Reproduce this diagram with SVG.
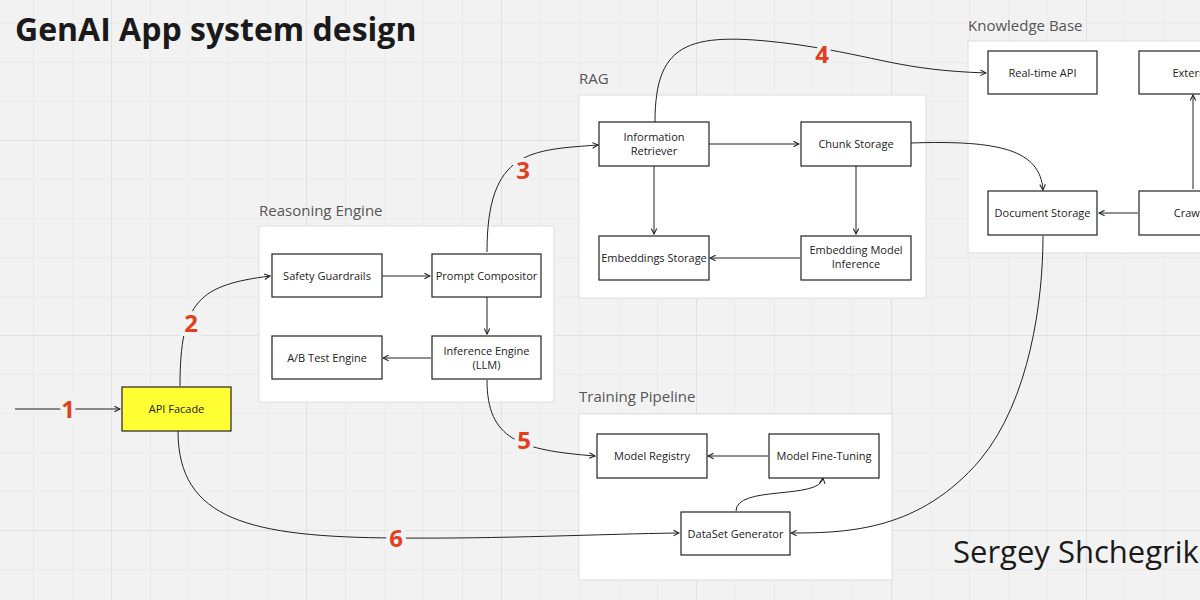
<svg xmlns="http://www.w3.org/2000/svg" width="1200" height="600" viewBox="0 0 1200 600">
<defs>
<pattern id="minor" width="39" height="39" patternUnits="userSpaceOnUse" x="33" y="23"><path d="M0 0H39M0 0V39" fill="none" stroke="#e6e6e6" stroke-width="1"/></pattern>
<pattern id="major" width="195" height="195" patternUnits="userSpaceOnUse" x="111" y="140"><path d="M0 0H195M0 0V195" fill="none" stroke="#d6d6d6" stroke-width="1"/></pattern>
<marker id="a" viewBox="0 0 10 10" refX="9" refY="5" markerWidth="7" markerHeight="7" orient="auto"><path d="M1 1L9 5L1 9" fill="none" stroke="#222" stroke-width="1.5"/></marker>
<style>
.n{fill:#fff;stroke:#222;stroke-width:1.2}
.g{fill:#fff;stroke:#ddd;stroke-width:1}
.t{font-family:"Open Sans",sans-serif;font-size:11px;fill:#222;text-anchor:middle}
.gl{font-family:"Open Sans",sans-serif;font-size:15px;fill:#555}
.num{font-family:"Open Sans",sans-serif;font-size:24px;font-weight:bold;fill:#e0401e;text-anchor:middle;stroke:#f2f2f2;stroke-width:8;paint-order:stroke}
.c{fill:none;stroke:#222;stroke-width:1;marker-end:url(#a)}
</style>
</defs>
<rect width="1200" height="600" fill="#f2f2f2"/>
<rect width="1200" height="600" fill="url(#minor)"/>
<rect width="1200" height="600" fill="url(#major)"/>
<text x="15" y="41" font-family="Open Sans, sans-serif" font-size="32" font-weight="bold" fill="#1a1a1a">GenAI App system design</text>

<g id="groups">
<rect class="g" x="259" y="226" width="295" height="176"/><text class="gl" x="259" y="216">Reasoning Engine</text>
<rect class="g" x="579" y="95" width="347" height="203"/><text class="gl" x="579" y="84">RAG</text>
<rect class="g" x="968" y="41" width="240" height="212"/><text class="gl" x="968" y="31">Knowledge Base</text>
<rect class="g" x="579" y="414" width="313" height="166"/><text class="gl" x="579" y="402">Training Pipeline</text>
</g>

<g id="connectors">
<path class="c" d="M15 409H120"/>
<path class="c" d="M180 386C180 300 200 285 270 276"/>
<path class="c" d="M382 276H430"/>
<path class="c" d="M487 297V334"/>
<path class="c" d="M431 358H383"/>
<path class="c" d="M487 252C487 150 530 150 598 145"/>
<path class="c" d="M709 144H799"/>
<path class="c" d="M654 166V234"/>
<path class="c" d="M856 166V234"/>
<path class="c" d="M800 258H710"/>
<path class="c" d="M655 122C655 40 690 30 800 45C880 57 900 70 986 73"/>
<path class="c" d="M911 143C1000 140 1040 150 1043 190"/>
<path class="c" d="M1138 213H1099"/>
<path class="c" d="M1193 189V95"/>
<path class="c" d="M487 380C487 440 520 450 595 456"/>
<path class="c" d="M768 456H708"/>
<path class="c" d="M736 511C736 485 820 500 823 478"/>
<path class="c" d="M1043 236C1043 300 1030 400 980 460C920 530 850 533 791 533"/>
<path class="c" d="M178 431C178 520 250 537 395 538C500 539 600 534 679 533"/>
</g>

<g id="n1"><text class="num" x="68" y="418">1</text></g>
<g id="n2"><text class="num" x="191" y="332">2</text></g>
<g id="n3"><text class="num" x="523" y="179">3</text></g>
<g id="n4"><text class="num" x="822" y="63">4</text></g>
<g id="n5"><text class="num" x="524" y="449">5</text></g>
<g id="n6"><text class="num" x="396" y="547">6</text></g>

<g id="api"><rect x="122" y="387" width="109" height="44" fill="#ffff33" stroke="#222" stroke-width="1.2"/><text class="t" x="176.5" y="413">API Facade</text></g>
<g id="safety"><rect class="n" x="272" y="254" width="110" height="43"/><text class="t" x="327" y="280">Safety Guardrails</text></g>
<g id="prompt"><rect class="n" x="432" y="254" width="109" height="43"/><text class="t" x="486.5" y="280">Prompt Compositor</text></g>
<g id="ab"><rect class="n" x="272" y="336" width="110" height="43"/><text class="t" x="327" y="362">A/B Test Engine</text></g>
<g id="infer"><rect class="n" x="432" y="336" width="109" height="43"/><text class="t" x="486.5" y="355">Inference Engine</text><text class="t" x="486.5" y="369">(LLM)</text></g>
<g id="retriever"><rect class="n" x="599" y="122" width="110" height="44"/><text class="t" x="654" y="141">Information</text><text class="t" x="654" y="155">Retriever</text></g>
<g id="chunk"><rect class="n" x="801" y="122" width="110" height="44"/><text class="t" x="856" y="148">Chunk Storage</text></g>
<g id="emb"><rect class="n" x="599" y="236" width="110" height="44"/><text class="t" x="654" y="262">Embeddings Storage</text></g>
<g id="embinf"><rect class="n" x="801" y="236" width="110" height="44"/><text class="t" x="856" y="254">Embedding Model</text><text class="t" x="856" y="268">Inference</text></g>
<g id="realtime"><rect class="n" x="988" y="51" width="109" height="43"/><text class="t" x="1042.5" y="77">Real-time API</text></g>
<g id="external"><rect class="n" x="1139" y="51" width="109" height="43"/><text class="t" x="1193.5" y="77">External</text></g>
<g id="docs"><rect class="n" x="988" y="191" width="109" height="44"/><text class="t" x="1042.5" y="217">Document Storage</text></g>
<g id="crawler"><rect class="n" x="1139" y="191" width="109" height="44"/><text class="t" x="1193.5" y="217">Crawler</text></g>
<g id="registry"><rect class="n" x="597" y="434" width="110" height="44"/><text class="t" x="652" y="460">Model Registry</text></g>
<g id="finetune"><rect class="n" x="769" y="434" width="110" height="44"/><text class="t" x="824" y="460">Model Fine-Tuning</text></g>
<g id="dataset"><rect class="n" x="681" y="512" width="109" height="43"/><text class="t" x="735.5" y="538">DataSet Generator</text></g>
<text x="953" y="563" font-family="Open Sans, sans-serif" font-size="31" fill="#1a1a1a">Sergey Shchegrikovich</text>
</svg>
